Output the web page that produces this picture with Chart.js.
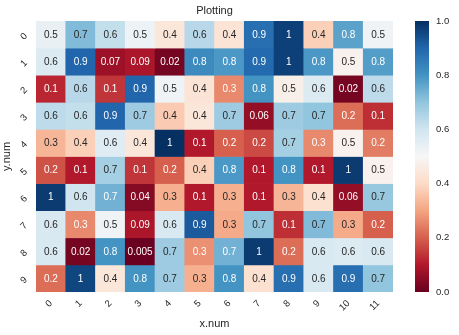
<!DOCTYPE html>
<html>
<head>
<meta charset="utf-8">
<script src="https://cdn.jsdelivr.net/npm/chart.js@4"></script>
<style>
  html, body { margin: 0; padding: 0; background: #fff; }
  #wrap { width: 459px; height: 335px; position: relative; }
</style>
</head>
<body>
<div id="wrap"><canvas id="heat"></canvas></div>
<script>
// heatmap data: rows are y.num, columns are x.num
const xLabels = ['0', '1', '2', '3', '4', '5', '6', '7', '8', '9', '10', '11'];
const yLabels = ['0', '1', '2', '3', '4', '5', '6', '7', '8', '9'];
const row0 = [0.54, 0.72, 0.62, 0.53, 0.44, 0.64, 0.43, 0.88, 0.97, 0.38, 0.77, 0.52];
const row1 = [0.57, 0.90, 0.07, 0.09, 0.02, 0.82, 0.79, 0.89, 0.97, 0.79, 0.48, 0.78];
const row2 = [0.12, 0.64, 0.14, 0.90, 0.52, 0.43, 0.26, 0.80, 0.47, 0.57, 0.02, 0.63];
const row3 = [0.63, 0.62, 0.90, 0.68, 0.37, 0.44, 0.68, 0.06, 0.68, 0.70, 0.22, 0.13];
const row4 = [0.33, 0.38, 0.56, 0.44, 1.00, 0.10, 0.20, 0.17, 0.67, 0.26, 0.48, 0.24];
const row5 = [0.18, 0.10, 0.67, 0.14, 0.20, 0.38, 0.79, 0.10, 0.80, 0.10, 0.98, 0.48];
const row6 = [0.98, 0.60, 0.74, 0.04, 0.32, 0.10, 0.32, 0.10, 0.33, 0.42, 0.06, 0.69];
const row7 = [0.58, 0.26, 0.52, 0.09, 0.58, 0.92, 0.31, 0.70, 0.13, 0.72, 0.31, 0.20];
const row8 = [0.58, 0.02, 0.80, 0.005, 0.68, 0.27, 0.74, 0.98, 0.22, 0.58, 0.57, 0.58];
const row9 = [0.22, 0.96, 0.44, 0.80, 0.68, 0.32, 0.80, 0.42, 0.88, 0.58, 0.88, 0.70];
const rows = [row0, row1, row2, row3, row4, row5, row6, row7, row8, row9];
const cbTicks = [0, 0.2, 0.4, 0.6, 0.8, 1.0];

// matplotlib RdBu anchor colours
const rdbu = [
  [103, 0, 31], [178, 24, 43], [214, 96, 77], [244, 165, 130], [253, 219, 199],
  [247, 247, 247], [209, 229, 240], [146, 197, 222], [67, 147, 195], [33, 102, 172], [5, 48, 97]
];

function cmapRgb(v) {
  v = Math.max(0, Math.min(1, v));
  const pos = v * 10;
  const i = Math.min(9, Math.floor(pos));
  const t = pos - i;
  const a = rdbu[i], b = rdbu[i + 1];
  return [0, 1, 2].map(k => Math.round(a[k] + (b[k] - a[k]) * t));
}
function cmap(v) {
  const c = cmapRgb(v);
  return 'rgb(' + c[0] + ',' + c[1] + ',' + c[2] + ')';
}
function textColor(v) {
  // same rule as seaborn annotations
  const lin = cmapRgb(v).map(c => {
    c = c / 255;
    return c <= 0.03928 ? c / 12.92 : Math.pow((c + 0.055) / 1.055, 2.4);
  });
  const lum = 0.2126 * lin[0] + 0.7152 * lin[1] + 0.0722 * lin[2];
  return lum > 0.408 ? '#262626' : '#ffffff';
}

const datasets = rows.map((vals, r) => ({
  label: 'y' + r,
  data: vals.map(() => [r, r + 1]),
  values: vals,
  backgroundColor: vals.map(cmap),
  borderWidth: 0,
  categoryPercentage: 1.0,
  barPercentage: 1.0,
  stack: 'cells',
  yAxisID: 'y'
}));

const textCol = '#262626';
const fontFam = '"Liberation Sans", Arial, sans-serif';

// cell labels
const annotate = {
  id: 'annotate',
  afterDatasetsDraw(chart) {
    const ctx = chart.ctx;
    ctx.save();
    ctx.font = '10px ' + fontFam;
    ctx.textAlign = 'center';
    ctx.textBaseline = 'middle';
    chart.data.datasets.forEach((ds, di) => {
      chart.getDatasetMeta(di).data.forEach((bar, i) => {
        const v = ds.values[i];
        ctx.fillStyle = textColor(v);
        ctx.fillText(String(Number(v.toPrecision(1))), bar.x, (bar.y + bar.base) / 2 + 0.5);
      });
    });
    ctx.restore();
  }
};

// colour bar drawn next to its own axis, title centred over the cells
const colorBar = {
  id: 'colorBar',
  beforeDatasetsDraw(chart) {
    const sc = chart.scales.cb;
    const ctx = chart.ctx;
    const top = sc.getPixelForValue(1);
    const bottom = sc.getPixelForValue(0);
    const x = sc.left + 22;
    const grad = ctx.createLinearGradient(0, bottom, 0, top);
    rdbu.forEach((c, i) => grad.addColorStop(i / 10, 'rgb(' + c.join(',') + ')'));
    ctx.save();
    ctx.fillStyle = grad;
    ctx.fillRect(x, top, 14, bottom - top);
    const area = chart.chartArea;
    ctx.fillStyle = textCol;
    ctx.font = '11px ' + fontFam;
    ctx.textAlign = 'center';
    ctx.textBaseline = 'middle';
    ctx.fillText('Plotting', (area.left + area.right) / 2, 11);
    ctx.restore();
  }
};

new Chart(document.getElementById('heat'), {
  type: 'bar',
  data: { labels: xLabels, datasets: datasets },
  plugins: [colorBar, annotate],
  options: {
    responsive: true,
    maintainAspectRatio: false,
    animation: false,
    events: [],
    layout: { padding: { left: 0, right: 0, top: 21, bottom: 0 } },
    plugins: {
      legend: { display: false },
      tooltip: { enabled: false },
      title: { display: false }
    },
    scales: {
      x: {
        type: 'category',
        stacked: true,
        offset: true,
        grid: { display: false, drawTicks: false },
        border: { display: false },
        ticks: {
          color: textCol,
          font: { family: fontFam, size: 9.5 },
          minRotation: 45,
          maxRotation: 45,
          padding: 6
        },
        title: {
          display: true,
          text: 'x.num',
          color: textCol,
          font: { family: fontFam, size: 11 },
          padding: { top: 0, bottom: 4 }
        },
        afterFit(scale) { scale.height = 43; }
      },
      y: {
        type: 'linear',
        stacked: false,
        min: 0,
        max: 10,
        reverse: true,
        grid: { display: false, drawTicks: false },
        border: { display: false },
        afterBuildTicks(scale) {
          scale.ticks = yLabels.map((l, i) => ({ value: i + 0.5 }));
        },
        ticks: {
          color: textCol,
          font: { family: fontFam, size: 9.5 },
          minRotation: 45,
          maxRotation: 45,
          padding: 10,
          callback: (v, i) => yLabels[i]
        },
        title: {
          display: true,
          text: 'y.num',
          color: textCol,
          font: { family: fontFam, size: 11 },
          padding: { top: 0, bottom: 0 }
        },
        afterFit(scale) {
          scale.width = 36;
          scale.paddingTop = 0;
          scale.paddingBottom = 0;
        }
      },
      cb: {
        type: 'linear',
        position: 'right',
        min: 0,
        max: 1,
        grid: { display: false, drawTicks: false },
        border: { display: false },
        afterBuildTicks(scale) {
          scale.ticks = cbTicks.map(v => ({ value: v }));
        },
        ticks: {
          color: textCol,
          font: { family: fontFam, size: 9.5 },
          padding: 43,
          callback: v => v.toFixed(1)
        },
        afterFit(scale) {
          scale.width = 66;
          scale.paddingTop = 0;
          scale.paddingBottom = 0;
        }
      }
    }
  }
});
</script>
</body>
</html>
